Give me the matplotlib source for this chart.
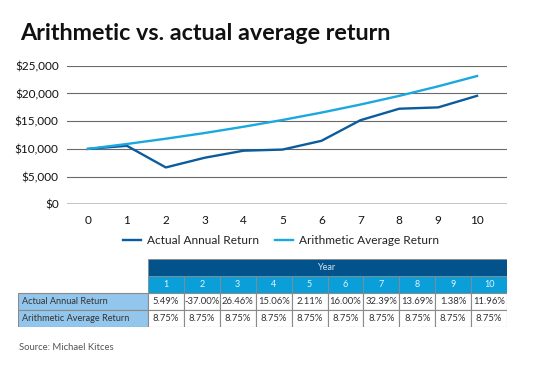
# Arithmetic vs. actual average return, with the yearly returns table underneath
import matplotlib.pyplot as plt
from matplotlib.patches import Rectangle

plt.rcParams['font.family'] = ['Lato', 'DejaVu Sans']

years = list(range(0, 11))
actual_value = [10000, 10550, 6650, 8400, 9670, 9870, 11450, 15160, 17240, 17480, 19570]
arith_value = [10000, 10880, 11830, 12860, 13990, 15210, 16540, 17990, 19560, 21280, 23140]
y_ticks = [0, 5000, 10000, 15000, 20000, 25000]
y_labels = ['$0', '$5,000', '$10,000', '$15,000', '$20,000', '$25,000']

table_years = ['1', '2', '3', '4', '5', '6', '7', '8', '9', '10']
actual_returns = ['5.49%', '-37.00%', '26.46%', '15.06%', '2.11%', '16.00%',
                  '32.39%', '13.69%', '1.38%', '11.96%']
arith_returns = ['8.75%'] * 10
row_names = ['Actual Annual Return', 'Arithmetic Average Return']

dark = '#0b5c9e'
light = '#1ba8e0'

fig = plt.figure(figsize=(5.47, 3.71), dpi=100)
W, H = 547, 371

fig.text(20 / W, 1 - 33 / H, 'Arithmetic vs. actual average return', fontsize=16.8,
         fontweight='bold', va='center', ha='left', color='#111111')

ax = fig.add_axes([67 / W, 1 - 204.3 / H, 440 / W, 138.6 / H])
l1, = ax.plot(years, actual_value, color=dark, lw=1.7, label='Actual Annual Return')
l2, = ax.plot(years, arith_value, color=light, lw=1.7, label='Arithmetic Average Return')
ax.set_xlim(-0.54, 10.77)
ax.set_ylim(0, 25000)
ax.set_xticks(years)
ax.set_yticks(y_ticks)
ax.set_yticklabels(y_labels)
for y in y_ticks[1:]:
    ax.axhline(y, color='#6a6a6a', lw=0.8, zorder=0)
ax.axhline(0, color='#bdbdbd', lw=2, zorder=0)
for s in ax.spines.values():
    s.set_visible(False)
ax.tick_params(length=0, labelsize=8.5, colors='#111111')
ax.tick_params(axis='x', pad=8)
ax.tick_params(axis='y', pad=6)

fig.legend(handles=[l1, l2], loc='center', bbox_to_anchor=(281 / W, 1 - 241 / H),
           ncol=2, frameon=False, fontsize=8.6, handlelength=1.5, columnspacing=1.3,
           handletextpad=0.5, labelcolor='#222222')

# table
tx = fig.add_axes([17.7 / W, 1 - 327.3 / H, (507 - 17.7) / W, 68 / H])
label_w = 130.3 / 35.9
tx.set_xlim(0, label_w + 10)
tx.set_ylim(0, 4)
tx.axis('off')
edge = '#8a8a8a'

tx.add_patch(Rectangle((label_w, 3), 10, 1, facecolor='#02528c', edgecolor=edge, lw=0.6))
tx.text(label_w + 5, 3.5, 'Year', ha='center', va='center', fontsize=6.5, color='#d6e6f2')
for i, t in enumerate(table_years):
    tx.add_patch(Rectangle((label_w + i, 2), 1, 1, facecolor='#0a9fd8', edgecolor=edge, lw=0.6))
    tx.text(label_w + i + 0.5, 2.5, t, ha='center', va='center', fontsize=6.5, color='#e6f4fb')

for r, (name, vals) in enumerate(zip(row_names, [actual_returns, arith_returns])):
    y0 = 1 - r
    tx.add_patch(Rectangle((0, y0), label_w, 1, facecolor='#92c6ec', edgecolor=edge, lw=0.8))
    tx.text(0.13, y0 + 0.5, name, ha='left', va='center', fontsize=6.6, color='#333333')
    for i, v in enumerate(vals):
        tx.add_patch(Rectangle((label_w + i, y0), 1, 1, facecolor='white', edgecolor=edge, lw=0.8))
        tx.text(label_w + i + 0.5, y0 + 0.5, v, ha='center', va='center', fontsize=6.8,
                color='#333333')

fig.text(19 / W, 1 - 348 / H, 'Source: Michael Kitces', fontsize=6.8, color='#555555',
         va='center', ha='left')

fig.savefig('out.png', dpi=100)
